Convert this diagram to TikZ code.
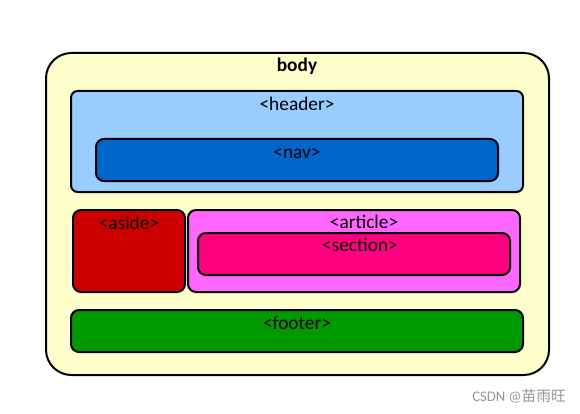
\documentclass[tikz,border=0pt]{standalone}
\usepackage{fontspec}
\setmainfont{Carlito}
\newfontfamily\cjk{Noto Sans CJK SC}
\begin{document}
\begin{tikzpicture}[x=0.75pt,y=-0.75pt,
  box/.style={draw=black,line width=1.5pt,inner sep=0pt,outer sep=0pt},
  lbl/.style={font=\fontsize{14.5}{16}\selectfont,inner sep=0pt,anchor=base}]
\useasboundingbox (0,0) rectangle (580,413);
\fill[white] (0,0) rectangle (580,413);
% body
\node[box,fill={rgb,255:red,255;green,255;blue,204},rounded corners=19pt,
  minimum width=503*0.75pt,minimum height=322*0.75pt] (body) at (297.5,214) {};
\node[font=\bfseries\fontsize{14.5}{16}\selectfont,inner sep=0pt,anchor=base] (bodyt) at (297,72) {body};
% header
\node[box,fill={rgb,255:red,153;green,204;blue,255},rounded corners=5pt,
  minimum width=452*0.75pt,minimum height=101*0.75pt] (header) at (297,141.5) {};
\node[lbl] (headert) at (297,110.5) {<header>};
% nav
\node[box,fill={rgb,255:red,0;green,102;blue,204},rounded corners=6pt,
  minimum width=402*0.75pt,minimum height=42*0.75pt] (nav) at (297,160) {};
\node[lbl] (navt) at (297,158.5) {<nav>};
% aside
\node[box,fill={rgb,255:red,204;green,0;blue,0},rounded corners=6pt,
  minimum width=112*0.75pt,minimum height=82*0.75pt] (aside) at (129,251) {};
\node[lbl] (asidet) at (129,229) {<aside>};
% article
\node[box,fill={rgb,255:red,255;green,102;blue,255},rounded corners=6pt,
  minimum width=332*0.75pt,minimum height=82*0.75pt] (article) at (354,251) {};
\node[lbl] (articlet) at (364,228.5) {<article>};
% section
\node[box,fill={rgb,255:red,255;green,0;blue,128},rounded corners=6pt,
  minimum width=312*0.75pt,minimum height=42*0.75pt] (section) at (354,254) {};
\node[lbl] (sectiont) at (360,251.5) {<section>};
% footer
\node[box,fill={rgb,255:red,0;green,153;blue,0},rounded corners=6pt,
  minimum width=452*0.75pt,minimum height=42*0.75pt] (footer) at (297,331) {};
\node[lbl] (footert) at (297,329.5) {<footer>};
% watermark
\node[font=\fontsize{11}{13}\selectfont,text={rgb,255:red,150;green,150;blue,150},inner sep=0pt,anchor=east] (wm) at (566,396) {CSDN @{\cjk 苗雨旺}};
\end{tikzpicture}
\end{document}
